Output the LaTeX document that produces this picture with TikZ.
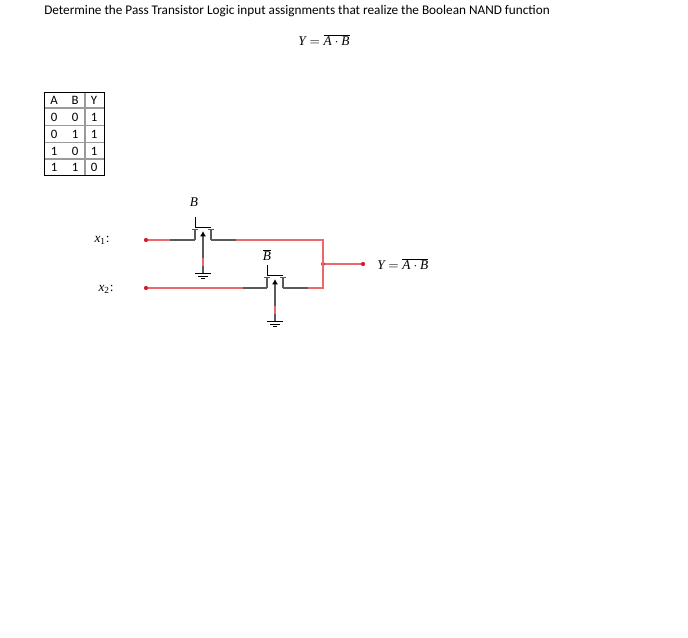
\documentclass[tikz,border=0pt]{standalone}
\usepackage{fontspec}
\setmainfont{Carlito}
\newfontfamily\eqfont{Liberation Serif}
\usetikzlibrary{arrows.meta}
\definecolor{wirered}{HTML}{E8686C}
\definecolor{wiredark}{HTML}{5A5A5A}
\definecolor{dotred}{HTML}{D81E2C}
\definecolor{rulegray}{HTML}{9A9A9A}
\newcommand{\iv}[1]{\textit{#1}}
\tikzset{
  cell/.style={font=\fontsize{9.6}{10}\selectfont,inner sep=0pt},
  term/.style={circle,fill=dotred,inner sep=0pt,minimum size=3.2pt},
  wire/.style={wirered,line width=.9pt},
  lead/.style={wiredark,line width=.8pt},
  label/.style={font=\fontsize{10}{11}\selectfont\eqfont,inner sep=0pt},
  pics/passfet/.style={code={
    \coordinate (-left) at (-8,12.5);
    \coordinate (-right) at (8,12.5);
    \coordinate (-gate) at (-8,-11);
    \coordinate (-gnd) at (0,46);
    \draw[lead] (-left) -- (-8,2) (-11,2) -- (-5,2);
    \draw[lead] (-right) -- (8,2) (5,2) -- (11,2);
    \draw[black,line width=.7pt] (-gate) -- (-8,0) -- (8,0);
    \draw[lead,-{Latex[black,length=4pt,width=4.5pt]}] (-gnd) -- (0,3.5);
    \draw[wire] (0,30) -- (0,38);
    \draw[black,line width=.7pt] (-8,46) -- (8,46) (-5,48.5) -- (5,48.5) (-2,51) -- (2,51);
  }}
}
\begin{document}
\begin{tikzpicture}[x=0.75pt,y=-0.75pt]
  \useasboundingbox (0,0) rectangle (688,637);
  \node[anchor=west,inner sep=0pt,font=\fontsize{9.92}{11}\selectfont] (title) at (44,11) {Determine the Pass Transistor Logic input assignments that realize the Boolean NAND function};
  \node[label] (eqn) at (324,40) {$\iv{Y}=\overline{\iv{A}\cdot\iv{B}}$};

  % truth table
  \draw[rulegray,line width=.8pt] (44.5,108) -- (104,108) (44.5,125.5) -- (104,125.5) (44.5,142.5) -- (104,142.5) (44.5,159) -- (104,159) (85,92.5) -- (85,175);
  \draw[black,line width=.65pt] (44.5,92.5) rectangle (104,175);
  \node[cell] (hA) at (54,100.5) {A};
  \node[cell] (hB) at (75,100.5) {B};
  \node[cell] (hY) at (94,100.5) {Y};
  \node[cell] (a1) at (54,117) {0};
  \node[cell] (b1) at (75,117) {0};
  \node[cell] (y1) at (94,117) {1};
  \node[cell] (a2) at (54,134) {0};
  \node[cell] (b2) at (75,134) {1};
  \node[cell] (y2) at (94,134) {1};
  \node[cell] (a3) at (54,151) {1};
  \node[cell] (b3) at (75,151) {0};
  \node[cell] (y3) at (94,151) {1};
  \node[cell] (a4) at (54,167.5) {1};
  \node[cell] (b4) at (75,167.5) {1};
  \node[cell] (y4) at (94,167.5) {0};

  % pass transistors
  \pic (ta) at (203,227.5) {passfet};
  \pic (tb) at (275,275.5) {passfet};
  \node[label] (gateA) at (194,202) {$\iv{B}$};
  \node[label] (gateB) at (267,255) {$\overline{\iv{B}}$};
  \node[label] (labX) at (102,240.5) {\iv{x}\textsubscript{1}:};
  \node[label] (labY) at (106,289.5) {\iv{x}\textsubscript{2}:};
  \node[label,anchor=west] (labOut) at (377,264) {$\iv{Y}=\overline{\iv{A}\cdot\iv{B}}$};

  % wires
  \node[term] (x1) at (146,240) {};
  \node[term] (x2) at (146,288) {};
  \node[term] (out) at (363,264) {};
  \node[term,minimum size=3pt] (join) at (323,264) {};
  \coordinate (topR) at (323,240);
  \coordinate (botR) at (323,288);
  \coordinate (x1g) at (170,240);
  \coordinate (x2g) at (243,288);
  \coordinate (y1g) at (236,240);
  \coordinate (y2g) at (308,288);
  \draw[wire] (x1) -- (x1g);
  \draw[lead] (x1g) -- (ta-left);
  \draw[wire] (x2) -- (x2g);
  \draw[lead] (x2g) -- (tb-left);
  \draw[lead] (ta-right) -- (y1g);
  \draw[lead] (tb-right) -- (y2g);
  \draw[wire] (y1g) -- (topR) -- (botR) -- (y2g);
  \draw[wire] (join) -- (out);
\end{tikzpicture}
\end{document}
